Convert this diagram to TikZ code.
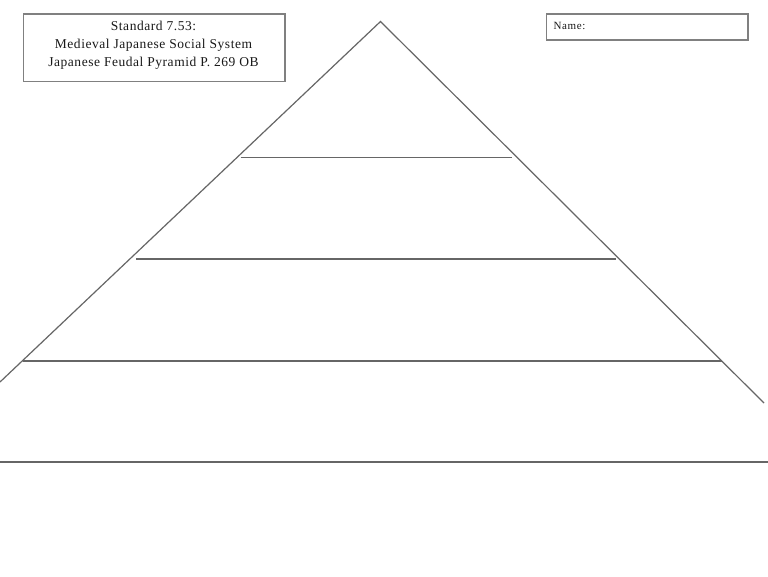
\documentclass[tikz,border=0pt]{standalone}
\usepackage{fontspec}
\setmainfont{Liberation Serif}
\begin{document}
\begin{tikzpicture}[x=1pt,y=-1pt,
  edge/.style={draw=black!60,line width=1.2pt},
  boxstyle/.style={draw=black!50,line width=1.2pt}]
\useasboundingbox[fill=white] (0,0) rectangle (768,576);
% title box
\node[boxstyle,minimum width=261.6pt,minimum height=67.7pt,anchor=north west,inner sep=0pt] (title) at (22.7,13.3) {};
\node[align=center,font=\fontsize{13.5}{18.3}\selectfont\addfontfeatures{LetterSpace=4},text=black!90] (titletext) at (153.5,45.2)
 {Standard 7.53:\\Medieval Japanese Social System\\Japanese Feudal Pyramid P. 269 OB};
% name box
\node[boxstyle,minimum width=201.3pt,minimum height=26pt,anchor=north west,inner sep=0pt] (namebox) at (546,13.3) {};
\node[anchor=west,font=\fontsize{11}{13}\selectfont\addfontfeatures{LetterSpace=6},text=black!90,inner sep=0pt] (nametext) at (553.3,25.5) {Name:};
% pyramid
\coordinate (apex) at (380.5,21.5);
\coordinate (bl) at (0,382);
\coordinate (br) at (764,403);
\draw[edge] (bl) -- (apex) -- (br);
\coordinate (a1) at (240.7,157.7); \coordinate (b1) at (511.7,157.7);
\coordinate (a2) at (136,259);     \coordinate (b2) at (615.7,259);
\coordinate (a3) at (23,361);      \coordinate (b3) at (722,361);
\coordinate (a4) at (0,462);       \coordinate (b4) at (768,462);
\draw[edge] (a1) -- (b1);
\draw[edge] (a2) -- (b2);
\draw[edge] (a3) -- (b3);
\draw[edge] (a4) -- (b4);
\end{tikzpicture}
\end{document}
